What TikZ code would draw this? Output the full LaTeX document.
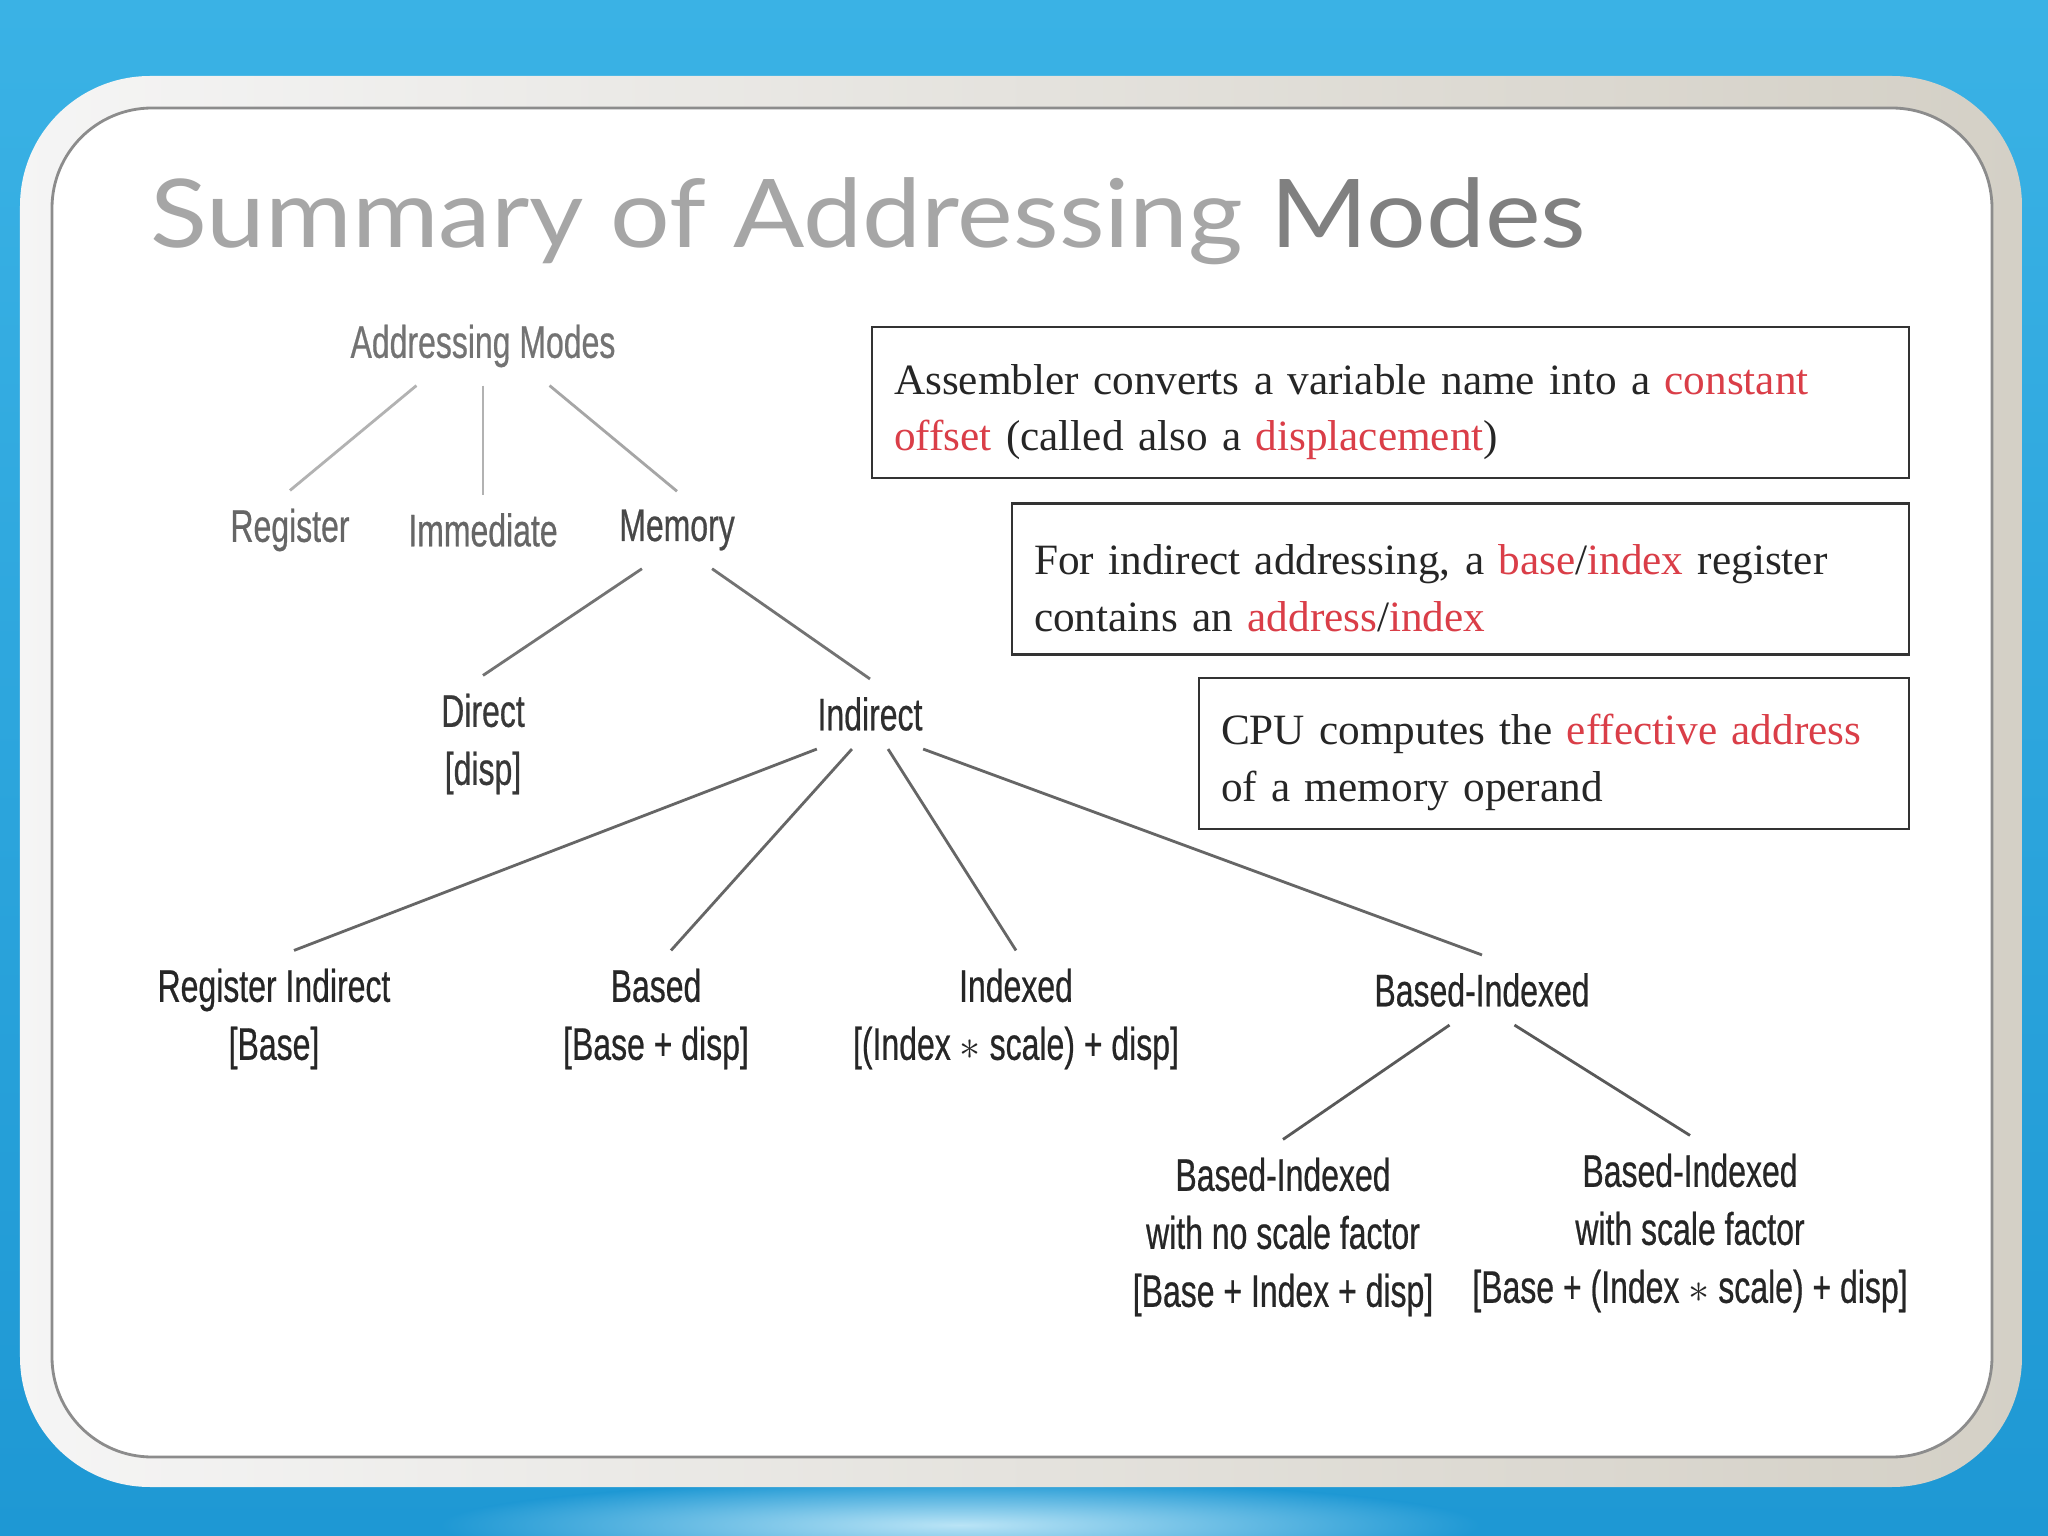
\documentclass[tikz,border=0pt]{standalone}
\usepackage{fontspec}
\setmainfont{Liberation Serif}
\newfontfamily\treefont[FakeStretch=0.7, FakeBold=0.5]{Liberation Sans}
\newfontfamily\titlefont[FakeStretch=1.11]{Lato}
\usetikzlibrary{calc}

\definecolor{sky}{RGB}{58,178,229}
\definecolor{sea}{RGB}{30,152,212}
\definecolor{rim}{RGB}{212,208,198}
\definecolor{hl}{RGB}{218,62,72}
\newcommand{\notetop}{\rule{0pt}{14pt}}

\begin{document}
\begin{tikzpicture}[
    mode/.style={font=\treefont\fontsize{13}{16.5}\selectfont, align=center, inner xsep=0pt, inner ysep=5pt},
    link/.style={line width=0.8pt},
    note/.style={draw=black!80, line width=0.6pt, inner xsep=0.22cm, inner ysep=0pt, align=left, text=black!85,
                 minimum height=1.51cm, font=\fontsize{12.3}{16.2}\selectfont}
]
    \useasboundingbox (0,0) rectangle (20.48,-15.36);
    % slide background and frame
    \shade[top color=sky, bottom color=sea] (0,0) rectangle (20.48,-15.36);
    \shade[inner color=white!65!sky, outer color=sea] (9.6,-15.25) ellipse (5.2 and 0.45);
    \shade[left color=white!96!black, right color=rim, rounded corners=1.3cm] (0.20,-0.76) rectangle (20.22,-14.87);
    \filldraw[fill=white, draw=black!45, line width=0.8pt, rounded corners=1.0cm] (0.52,-1.08) rectangle (19.92,-14.57);

    \node (title) at (1.50,-2.48) [anchor=base west, inner sep=0pt, text=black!35,
        font=\titlefont\fontsize{27}{30}\selectfont] {Summary of Addressing \textcolor{black!50}{Modes}};

    % tree
    \node (root) at (4.83,-3.46) [mode, text=black!55] {Addressing Modes};
    \node (reg) at (2.90,-5.30) [mode, text=black!60] {Register};
    \node (imm) at (4.83,-5.30) [mode, text=black!60] {Immediate};
    \node (mem) at (6.77,-5.30) [mode, text=black!72] {Memory};
    \node (dir) at (4.83,-7.44) [mode, text=black!78] {Direct\\{}[disp]};
    \node (ind) at (8.70,-7.14) [mode, text=black!82] {Indirect};
    \node (regind) at (2.74,-10.19) [mode, text=black!85] {Register Indirect\\{}[Base]};
    \node (based) at (6.56,-10.19) [mode, text=black!85] {Based\\{}[Base + disp]};
    \node (idx) at (10.16,-10.19) [mode, text=black!85] {Indexed\\{}[(Index $\ast$ scale) + disp]};
    \node (bidx) at (14.82,-9.90) [mode, text=black!85] {Based-Indexed};
    \node (bins) at (12.83,-12.37) [mode, text=black!85] {Based-Indexed\\with no scale factor\\{}[Base + Index + disp]};
    \node (bis) at (16.90,-12.33) [mode, text=black!85] {Based-Indexed\\with scale factor\\{}[Base + (Index $\ast$ scale) + disp]};

    \draw[link, black!30] ($(root.south west)!0.25!(root.south east)$) -- (reg.north);
    \draw[link, black!30] (root.south) -- (imm.north);
    \draw[link, black!35] ($(root.south west)!0.75!(root.south east)$) -- (mem.north);
    \draw[link, black!55] ($(mem.south west)!0.2!(mem.south east)$) -- (dir.north);
    \draw[link, black!55] ($(mem.south west)!0.8!(mem.south east)$) -- (ind.north);
    \foreach \kid/\f/\dx in {regind/0/0.2, based/0.33/0.15, idx/0.67/0, bidx/1/0}
        \draw[link, black!60] ($(ind.south west)!\f!(ind.south east)$) -- ($(\kid.north)+(\dx,0)$);
    \draw[link, black!65] ($(bidx.south west)!0.35!(bidx.south east)$) -- (bins.north);
    \draw[link, black!65] ($(bidx.south west)!0.65!(bidx.south east)$) -- (bis.north);

    % notes
    \node (asm) at (13.905,-4.025) [note, text width=9.93cm]
        {\notetop Assembler converts a variable name into a \textcolor{hl}{constant}\\
         \textcolor{hl}{offset} (called also a \textcolor{hl}{displacement})};
    \node (breg) at (14.605,-5.79) [note, text width=8.53cm]
        {\notetop For indirect addressing, a \textcolor{hl}{base}/\textcolor{hl}{index} register\\
         contains an \textcolor{hl}{address}/\textcolor{hl}{index}};
    \node (cpu) at (15.54,-7.535) [note, text width=6.66cm]
        {\notetop CPU computes the \textcolor{hl}{effective address}\\
         of a memory operand};
\end{tikzpicture}
\end{document}
